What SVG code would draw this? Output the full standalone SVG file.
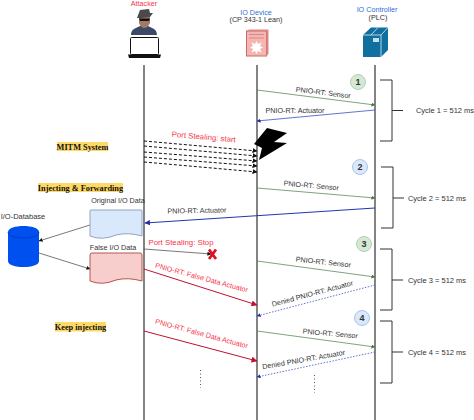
<svg xmlns="http://www.w3.org/2000/svg" width="474" height="420" viewBox="0 0 474 420">
<style>
text{font-family:"Liberation Sans",Arial,sans-serif;font-size:7.200px;fill:#333;text-anchor:middle}
.red{fill:#f5364a}
.big{font-size:7.800px}
.blue{fill:#2f6fd8}
.num{font-size:9px;font-weight:bold}
.cyc{font-size:7.500px}
.hl{font-family:"Liberation Serif","Times New Roman",serif;font-weight:bold;font-size:8.300px;fill:#111}
.hlb{fill:#ffd966}
.life{stroke:#333;stroke-width:1.200;fill:none}
.br{stroke:#333;stroke-width:1;fill:none}
.g{stroke:#5f8a5a;stroke-width:.8;fill:none;marker-end:url(#ag)}
.b{stroke:#3c4fc0;stroke-width:.8;fill:none;marker-end:url(#ab)}
.db{stroke:#3c4fc0;stroke-width:.8;stroke-dasharray:1.500 1.500;fill:none;marker-end:url(#ab)}
.r{stroke:#c01030;stroke-width:1;fill:none;marker-end:url(#ar)}
.k{stroke:#555;stroke-width:.8;fill:none;marker-end:url(#ak)}
.d{stroke:#111;stroke-width:1;stroke-dasharray:3 2;fill:none;marker-end:url(#ak)}
.dots{stroke:#555;stroke-width:1;stroke-dasharray:1 2.500;fill:none}
</style>
<defs>
<marker id="ag" markerWidth="5" markerHeight="5" refX="4.500" refY="2.500" orient="auto"><path d="M0 0L5 2.500L0 5z" fill="#3f7a3f"/></marker>
<marker id="ab" markerWidth="5" markerHeight="5" refX="4.500" refY="2.500" orient="auto"><path d="M0 0L5 2.500L0 5z" fill="#1f2fa8"/></marker>
<marker id="ar" markerWidth="6" markerHeight="6" refX="5.500" refY="3" orient="auto"><path d="M0 0L6 3L0 6z" fill="#c01030"/></marker>
<marker id="ak" markerWidth="5" markerHeight="5" refX="4.500" refY="2.500" orient="auto"><path d="M0 0L5 2.500L0 5z" fill="#111"/></marker>
</defs>

<g id="connectors">
<path class="life" d="M144 65V420M257 65V420M375 65V420"/>
<path class="g" d="M257 90L375 105"/>
<path class="b" d="M375 110L257 121"/>
<path class="d" d="M144 141L257 151"/>
<path class="d" d="M144 146L257 156"/>
<path class="d" d="M144 152L257 161"/>
<path class="d" d="M144 157L257 166"/>
<path class="d" d="M144 162L257 172"/>
<path class="g" d="M257 188L375 198"/>
<path d="M375 208L145 223" fill="none" stroke="#2238b0" stroke-width="1.100" marker-end="url(#ab)"/>
<path class="k" d="M144 249L211 254"/>
<path class="r" d="M144 269L257 305"/>
<path class="r" d="M144 331L257 361"/>
<path class="g" d="M257 261L375 277"/>
<path class="db" d="M375 285L257 316"/>
<path class="g" d="M257 331L375 347"/>
<path class="db" d="M375 352L257 377"/>
<path class="k" d="M90 225L39 241"/>
<path class="k" d="M39 253L90 269"/>
<path class="dots" d="M200.500 370V388M314.500 375V393"/>
</g>

<g id="attacker">
<text class="red" x="144" y="5.500">Attacker</text>
<path d="M131 35C131 29 136 28 140 26L148 26C152 28 157 29 157 35z" fill="#3d4a66"/>
<path d="M139 17H150V23C149 26 146 28 144.500 28C142 28 140 26 139 23z" fill="#a07a66"/>
<path d="M137 18L140 10L149 9L150 13L153 13L150 17L141 18z" fill="#4a4a4a"/>
<path d="M139 18.500H150L149 21H140z" fill="#111"/>
<rect x="130.500" y="37.500" width="28" height="17" rx="1" fill="#fff" stroke="#111" stroke-width="1"/>
<path d="M128 54.500H161L160 58H129z" fill="#111"/>
</g>

<g id="io-device">
<text class="blue" x="256" y="14.500">IO Device</text>
<text x="256" y="22">(CP 343-1 Lean)</text>
<rect x="246.500" y="31" width="20" height="25" fill="#f4b6b3" stroke="#cc6b66"/>
<path d="M246.500 31L249 29.500H268.500V54L266.500 56V31z" fill="#d98884"/>
<path d="M256.500 41L258 44L261.500 42.500L260 46L263 47.500L260 49L261.500 52.500L258 51L256.500 54L255 51L251.500 52.500L253 49L250 47.500L253 46L251.500 42.500L255 44z" fill="#fff"/>
<path d="M249 34.500H264M249 38H264" stroke="#d98884"/>
</g>

<g id="io-controller">
<text class="blue" x="377" y="12">IO Controller</text>
<text x="378" y="20">(PLC)</text>
<path d="M363 35L371 27.500H388V50L381 57H363z" fill="#0f6f9f"/>
<path d="M363 35H381V57M381 35L388 27.500M371 35L378 27.500" stroke="#fff" stroke-width=".7" fill="none"/>
<rect x="373" y="38" width="6" height="4" fill="#bfe0ee"/>
</g>

<g id="lightning"><path d="M254 144L267 128L287 133L274 142L287 143L259 160L262 148z" fill="#000"/></g>

<g id="step-1"><circle cx="358" cy="82" r="7.500" fill="#d5e8d4" stroke="#b5d0b3"/><text class="num" x="358" y="85">1</text></g>
<g id="step-2"><circle cx="360" cy="167" r="7.500" fill="#dae8fc" stroke="#a9c4eb"/><text class="num" x="360" y="170">2</text></g>
<g id="step-3"><circle cx="364" cy="244" r="7.500" fill="#d5e8d4" stroke="#b5d0b3"/><text class="num" x="364" y="247">3</text></g>
<g id="step-4"><circle cx="362" cy="318" r="7.500" fill="#dae8fc" stroke="#a9c4eb"/><text class="num" x="362" y="321">4</text></g>

<g id="cycle-1"><path class="br" d="M380 80H392V141H380M392 110.500H403"/><text class="cyc" x="445" y="113">Cycle 1 = 512 ms</text></g>
<g id="cycle-2"><path class="br" d="M381 167H393V228H381M393 198H404"/><text class="cyc" x="437" y="200.500">Cycle 2 = 512 ms</text></g>
<g id="cycle-3"><path class="br" d="M380 249H392V310H380M392 280H403"/><text class="cyc" x="437" y="282.500">Cycle 3 = 512 ms</text></g>
<g id="cycle-4"><path class="br" d="M380 321H392V383H380M392 352H403"/><text class="cyc" x="437" y="354.500">Cycle 4 = 512 ms</text></g>

<g id="labels">
<text transform="translate(323 95) rotate(7)">PNIO-RT: Sensor</text>
<text x="295" y="113">PNIO-RT: Actuator</text>
<text class="red big" transform="translate(203.500 139.500) rotate(5)">Port Stealing: start</text>
<text transform="translate(311 188) rotate(5)">PNIO-RT: Sensor</text>
<text transform="translate(197 213) rotate(-1)">PNIO-RT: Actuator</text>
<text class="red big" x="181" y="245">Port Stealing: Stop</text>
<text class="red" transform="translate(201 280) rotate(15)">PNIO-RT: False Data Actuator</text>
<text class="red" transform="translate(201 336) rotate(15)">PNIO-RT: False Data Actuator</text>
<text transform="translate(323 264.500) rotate(6)">PNIO-RT: Sensor</text>
<text transform="translate(313 296) rotate(-15)">Denied PNIO-RT: Actuator</text>
<text transform="translate(330 336) rotate(5)">PNIO-RT: Sensor</text>
<text transform="translate(304 362) rotate(-10)">Denied PNIO-RT: Actuator</text>
<text x="118" y="203">Original I/O Data</text>
<text x="113" y="249.500">False I/O Data</text>
<text class="cyc" x="23" y="218.500">I/O-Database</text>
</g>

<g id="mitm-system"><rect class="hlb" x="57" y="142" width="51" height="9"/><text class="hl" x="82.500" y="149.500">MITM System</text></g>
<g id="injecting-forwarding"><rect class="hlb" x="38" y="183" width="85" height="9"/><text class="hl" x="80.500" y="190.500">Injecting &amp; Forwarding</text></g>
<g id="keep-injecting"><rect class="hlb" x="55" y="322" width="51" height="9.500"/><text class="hl" x="80.500" y="329.500">Keep injecting</text></g>

<g id="original-data"><path d="M90 211Q90 210 91 210H141Q142 210 142 211V236Q128 232 116 235Q102 241 90 236z" fill="#dae8fc" stroke="#8ea5c4"/></g>
<g id="false-data"><path d="M90 255Q90 253 92 253H140Q142 253 142 255V281Q128 277 116 280Q102 286 90 281z" fill="#f8cecc" stroke="#b85450"/></g>
<g id="io-database">
<path d="M8 232C8 224 39 224 39 232V261C39 269 8 269 8 261z" fill="#0050ef"/>
<path d="M8 232C8 240 39 240 39 232" fill="none" stroke="#0038b0" stroke-width=".7"/>
</g>
<g id="stop-x"><path d="M209 249.500L216 259M216 249.500L209 259" stroke="#e01020" stroke-width="2.800" fill="none"/></g>
</svg>
